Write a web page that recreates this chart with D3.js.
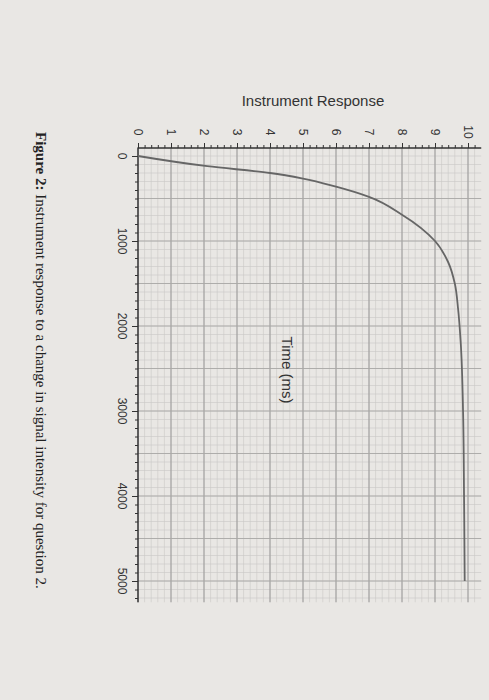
<!DOCTYPE html>
<html><head><meta charset="utf-8">
<script src="https://cdn.jsdelivr.net/npm/d3@7"></script>
<style>body{margin:0;background:#e9e7e4}</style>
</head><body>
<svg id="c" width="489" height="700"></svg>
<script>
// response (x on page) vs time (downward on page)
var timeMs   = [0, 120, 200, 265, 360, 480, 690, 1000, 1250, 1500, 1800, 2200, 3000, 4000, 5000];
var response = [0, 2.1, 4, 5, 6, 7, 8, 9, 9.4, 9.6, 9.7, 9.78, 9.85, 9.88, 9.9];
var respTicks = [0,1,2,3,4,5,6,7,8,9,10];
var timeTicks = [0,1000,2000,3000,4000,5000];

var svg = d3.select("#c");
var x = d3.scaleLinear().domain([0, 10]).range([138, 468]);
var y = d3.scaleLinear().domain([0, 5000]).range([156, 581]);
var xMax = 10.4, yMax = 5250;

var g = svg.append("g");
// minor grid
g.selectAll(".vm").data(d3.range(0, xMax, 0.2)).enter().append("line")
  .attr("x1", d => x(d)).attr("x2", d => x(d)).attr("y1", y(-100)).attr("y2", y(yMax))
  .attr("stroke", "#c9c8c6").attr("stroke-width", 0.6);
g.selectAll(".hm").data(d3.range(0, yMax, 100)).enter().append("line")
  .attr("y1", d => y(d)).attr("y2", d => y(d)).attr("x1", x(0)).attr("x2", x(xMax))
  .attr("stroke", "#c9c8c6").attr("stroke-width", 0.6);
// major grid
g.selectAll(".vM").data(d3.range(1, 11)).enter().append("line")
  .attr("x1", d => x(d)).attr("x2", d => x(d)).attr("y1", y(-100)).attr("y2", y(yMax))
  .attr("stroke", "#9a9998").attr("stroke-width", 1);
g.selectAll(".hM").data(d3.range(500, yMax, 500)).enter().append("line")
  .attr("y1", d => y(d)).attr("y2", d => y(d)).attr("x1", x(0)).attr("x2", x(xMax))
  .attr("stroke", "#a9a8a6").attr("stroke-width", 0.9);

// axes
var topAxis = svg.append("g").attr("transform", "translate(0," + (y(0) - 8) + ")")
  .call(d3.axisTop(x).tickValues(respTicks).tickSize(5).tickFormat(""));
topAxis.append("g").call(d3.axisTop(x).tickValues(d3.range(0, xMax, 0.2)).tickSize(3).tickFormat(""));
topAxis.selectAll("path.domain").attr("d", "M" + x(0) + ",0H" + x(xMax));
topAxis.selectAll("line,path").attr("stroke", "#333");

var leftAxis = svg.append("g").attr("transform", "translate(" + x(0) + ",0)")
  .call(d3.axisLeft(y).tickValues(timeTicks).tickSize(6).tickFormat(""));
leftAxis.append("g").call(d3.axisLeft(y).tickValues(d3.range(0, yMax, 100)).tickSize(3).tickFormat(""));
leftAxis.selectAll("path.domain").attr("d", "M0," + y(-100) + "V" + y(yMax));
leftAxis.selectAll("line,path").attr("stroke", "#333");

var font = "Liberation Sans, Arial, sans-serif";
svg.selectAll(".rl").data(respTicks).enter().append("text")
  .attr("transform", d => "translate(" + x(d) + "," + (y(0) - 24) + ") rotate(90)")
  .attr("text-anchor", "middle").attr("dy", "0.35em")
  .attr("font-family", font).attr("font-size", 12).attr("fill", "#333").text(d => d);
svg.selectAll(".tl").data(timeTicks).enter().append("text")
  .attr("transform", d => "translate(" + (x(0) - 16) + "," + y(d) + ") rotate(90)")
  .attr("text-anchor", "middle").attr("dy", "0.35em")
  .attr("font-family", font).attr("font-size", 12).attr("fill", "#333").text(d => d);

svg.append("text").attr("x", 313).attr("y", 106).attr("text-anchor", "middle")
  .attr("font-family", font).attr("font-size", 15).attr("fill", "#333").text("Instrument Response");
svg.append("text").attr("transform", "translate(282,370) rotate(90)").attr("text-anchor", "middle")
  .attr("font-family", font).attr("font-size", 15).attr("fill", "#333").text("Time (ms)");

var cap = svg.append("text").attr("transform", "translate(36,132) rotate(90)")
  .attr("font-family", "Liberation Serif, Times New Roman, serif").attr("font-size", 15).attr("fill", "#222");
cap.append("tspan").attr("font-weight", "bold").text("Figure 2:");
cap.append("tspan").text(" Instrument response to a change in signal intensity for question 2.");

// curve
var pts = timeMs.map((t, i) => [response[i], t]);
svg.append("path").datum(pts)
  .attr("d", d3.line().x(d => x(d[0])).y(d => y(d[1])).curve(d3.curveMonotoneY))
  .attr("fill", "none").attr("stroke", "#666").attr("stroke-width", 1.8);
</script>
</body></html>
